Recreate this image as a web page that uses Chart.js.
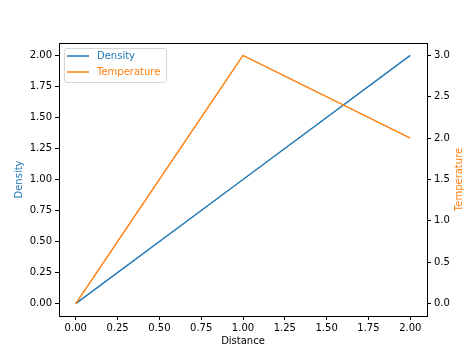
<!DOCTYPE html>
<html>
<head>
<meta charset="utf-8">
<script src="https://cdn.jsdelivr.net/npm/chart.js@4"></script>
<style>
  html, body { margin: 0; padding: 0; background: #fff; }
  #wrap { width: 474px; height: 355px; }
</style>
</head>
<body>
<div id="wrap"><canvas id="chart"></canvas></div>
<script>
const distance = [0, 1, 2];
const density = [0, 1, 2];
const temperature = [0, 3, 2];

const xTicks = [0, 0.25, 0.5, 0.75, 1, 1.25, 1.5, 1.75, 2];
const densityTicks = [0, 0.25, 0.5, 0.75, 1, 1.25, 1.5, 1.75, 2];
const temperatureTicks = [0, 0.5, 1, 1.5, 2, 2.5, 3];

const BLUE = "#1f77b4";
const ORANGE = "#ff7f0e";
const FONT = "DejaVu Sans";

const fixTicks = (list) => (scale) => {
    scale.ticks = list.map((v) => ({ value: v }));
};

// top spine, axis titles and the matplotlib-style legend box
const extras = {
    id: "extras",
    afterDraw(chart) {
        const { ctx, chartArea } = chart;
        const midY = (chartArea.top + chartArea.bottom) / 2;
        ctx.save();

        ctx.beginPath();
        ctx.moveTo(chartArea.left, chartArea.top + 0.5);
        ctx.lineTo(chartArea.right, chartArea.top + 0.5);
        ctx.strokeStyle = "#000";
        ctx.lineWidth = 1;
        ctx.stroke();

        ctx.font = `10px '${FONT}'`;
        ctx.textAlign = "center";
        ctx.textBaseline = "middle";

        ctx.fillStyle = "#000";
        ctx.fillText("Distance", (chartArea.left + chartArea.right) / 2, 341);

        ctx.save();
        ctx.translate(19, midY);
        ctx.rotate(-Math.PI / 2);
        ctx.fillStyle = BLUE;
        ctx.fillText("Density", 0, 0);
        ctx.restore();

        ctx.save();
        ctx.translate(459, midY);
        ctx.rotate(-Math.PI / 2);
        ctx.fillStyle = ORANGE;
        ctx.fillText("Temperature", 0, 0);
        ctx.restore();

        // legend
        const bx = 64.5, by = 48.5, bw = 102, bh = 34, r = 2.5;
        ctx.beginPath();
        ctx.roundRect(bx, by, bw, bh, r);
        ctx.fillStyle = "rgba(255,255,255,0.8)";
        ctx.fill();
        ctx.strokeStyle = "#d6d6d6";
        ctx.lineWidth = 1;
        ctx.stroke();

        const items = [
            { label: "Density", color: BLUE, y: 56 },
            { label: "Temperature", color: ORANGE, y: 72 },
        ];
        ctx.textAlign = "left";
        items.forEach((it) => {
            ctx.beginPath();
            ctx.moveTo(67, it.y);
            ctx.lineTo(89, it.y);
            ctx.strokeStyle = it.color;
            ctx.lineWidth = 1.5;
            ctx.stroke();
            ctx.fillStyle = it.color;
            ctx.fillText(it.label, 97, it.y);
        });
        ctx.restore();
    },
};

const tickFont = { family: FONT, size: 10 };

new Chart(document.getElementById("chart"), {
    type: "line",
    data: {
        datasets: [
            {
                label: "Density",
                data: distance.map((x, i) => ({ x, y: density[i] })),
                borderColor: BLUE,
                borderWidth: 1.5,
                pointRadius: 0,
                yAxisID: "y",
                order: 2,
            },
            {
                label: "Temperature",
                data: distance.map((x, i) => ({ x, y: temperature[i] })),
                borderColor: ORANGE,
                borderWidth: 1.5,
                pointRadius: 0,
                yAxisID: "y2",
                order: 1,
            },
        ],
    },
    options: {
        responsive: true,
        maintainAspectRatio: false,
        animation: false,
        layout: { padding: { top: 43, left: 0, right: 0, bottom: 0 } },
        plugins: { legend: { display: false }, tooltip: { enabled: false } },
        scales: {
            x: {
                type: "linear",
                min: -0.1,
                max: 2.1,
                afterBuildTicks: fixTicks(xTicks),
                afterFit: (s) => { s.height = 39; },
                grid: { drawOnChartArea: false, tickLength: 4, tickColor: "#000" },
                border: { color: "#000", width: 1 },
                ticks: { color: "#000", font: tickFont, padding: 2, maxRotation: 0, autoSkip: false,
                    callback: (v) => v.toFixed(2) },
            },
            y: {
                type: "linear",
                position: "left",
                min: -0.1,
                max: 2.1,
                afterBuildTicks: fixTicks(densityTicks),
                afterFit: (s) => { s.width = 59; },
                grid: { drawOnChartArea: false, tickLength: 4, tickColor: "#000" },
                border: { color: "#000", width: 1 },
                ticks: { color: "#000", font: tickFont, padding: 3, autoSkip: false,
                    callback: (v) => v.toFixed(2) },
            },
            y2: {
                type: "linear",
                position: "right",
                min: -0.15,
                max: 3.15,
                afterBuildTicks: fixTicks(temperatureTicks),
                afterFit: (s) => { s.width = 47; },
                grid: { drawOnChartArea: false, tickLength: 4, tickColor: "#000" },
                border: { color: "#000", width: 1 },
                ticks: { color: "#000", font: tickFont, padding: 3, autoSkip: false,
                    callback: (v) => v.toFixed(1) },
            },
        },
    },
    plugins: [extras],
});
</script>
</body>
</html>
